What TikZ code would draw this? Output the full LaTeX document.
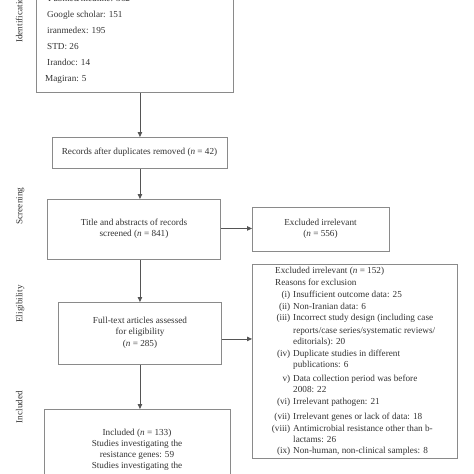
\documentclass[tikz,border=0pt]{standalone}
\usepackage{fontspec}
\setmainfont{Liberation Serif}
\usetikzlibrary{arrows.meta,calc}
\definecolor{boxgray}{HTML}{8A8A8A}
\definecolor{linecol}{HTML}{555555}
\definecolor{txtcol}{HTML}{333333}
\begin{document}
\begin{tikzpicture}[x=1pt,y=-1pt,
  box/.style={draw=boxgray, line width=0.9pt, rectangle, inner sep=0pt, anchor=north west},
  txt/.style={inner sep=0pt, font=\fontsize{9.2}{11.3}\selectfont, text=txtcol},
  ctxt/.style={txt, align=center, anchor=mid},
  ltxt/.style={txt, anchor=mid west},
  rtxt/.style={txt, anchor=mid east},
  conn/.style={draw=linecol, line width=0.8pt},
  arr/.style={conn, -{Triangle[length=5pt,width=4.5pt]}},
  side/.style={txt, rotate=90, anchor=mid}]
\useasboundingbox (0,0) rectangle (474,474);
\clip (0,0) rectangle (474,474);
\fill[white] (0,0) rectangle (474,474);

% boxes
\node[box, minimum width=197pt, minimum height=122pt] (B1) at (36,-30) {};
\node[box, minimum width=175pt, minimum height=31pt] (B2) at (52,137) {};
\node[box, minimum width=173pt, minimum height=60pt] (B3) at (47,199) {};
\node[box, minimum width=137pt, minimum height=44pt] (B4) at (252,207) {};
\node[box, minimum width=205pt, minimum height=194pt] (B5) at (252,264) {};
\node[box, minimum width=163pt, minimum height=62pt] (B6) at (58,302) {};
\node[box, minimum width=186pt, minimum height=90pt] (B7) at (44,409) {};

% side labels
\node[txt, rotate=90, anchor=mid west] (sI) at (20,43) {Identification};
\node[side] (sS) at (20,206) {Screening};
\node[side] (sE) at (20,304) {Eligibility};
\node[side] (sN) at (20,407) {Included};

% B1 text
\node[ltxt] (t11) at (48,-1) {Pubmed/medline: 362};
\node[ltxt] (t12) at (47,15) {Google scholar: 151};
\node[ltxt] (t13) at (47,31) {iranmedex: 195};
\node[ltxt] (t14) at (47,47) {STD: 26};
\node[ltxt] (t15) at (47,63) {Irandoc: 14};
\node[ltxt] (t16) at (45,79) {Magiran: 5};

% B2, B3, B4, B6, B7 text
\node[ctxt] (t2) at (139.5,152) {Records after duplicates removed (\textit{n} = 42)};
\node[ctxt] (t3a) at (134,223) {Title and abstracts of records};
\node[ctxt] (t3b) at (134,234.5) {screened (\textit{n} = 841)};
\node[ctxt] (t4a) at (320.5,223) {Excluded irrelevant};
\node[ctxt] (t4b) at (320.5,234.5) {(\textit{n} = 556)};
\node[ctxt] (t6a) at (140,321) {Full-text articles assessed};
\node[ctxt] (t6b) at (140,332.5) {for eligibility};
\node[ctxt] (t6c) at (140,344) {(\textit{n} = 285)};
\node[ctxt] (t7a) at (137,433) {Included (\textit{n} = 133)};
\node[ctxt] (t7b) at (137,444.5) {Studies investigating the};
\node[ctxt] (t7c) at (137,455.5) {resistance genes: 59};
\node[ctxt] (t7d) at (137,466.5) {Studies investigating the};

% B5 text
\node[ltxt] (h1) at (275,271.5) {Excluded irrelevant (\textit{n} = 152)};
\node[ltxt] (h2) at (275,283) {Reasons for exclusion};
\foreach \y/\lab/\t [count=\i] in {
  295/(i)/Insufficient outcome data: 25,
  307/(ii)/Non-Iranian data: 6,
  318.5/(iii)/Incorrect study design (including case,
  331//reports\slash case series\slash systematic reviews\slash,
  342//editorials): 20,
  354/(iv)/Duplicate studies in different,
  365//publications: 6,
  379/v)/Data collection period was before,
  390//2008: 22,
  402/(vi)/Irrelevant pathogen: 21,
  417/(vii)/Irrelevant genes or lack of data: 18,
  429/(viii)/Antimicrobial resistance other than b-,
  440//lactams: 26,
  451/(ix)/{Non-human, non-clinical samples: 8}}{
  \node[rtxt] (r\i) at (290.5,\y) {\lab};
  \node[ltxt] (e\i) at (293,\y) {\t};
}

% connectors
\draw[arr] (B2.north |- B1.south) -- (B2.north);
\draw[arr] (B2.south) -- (B3.north -| B2.south);
\draw[arr] (B3.south -| B2.south) -- (B6.north -| B2.south);
\draw[arr] (B6.south) -- (B7.north -| B6.south);
\coordinate (c34) at ($(B3.east)+(0,-1)$);
\draw[arr] (c34) -- (B4.west |- c34);
\coordinate (c65) at ($(B6.east)+(0,5.5)$);
\draw[arr] (c65) -- (B5.west |- c65);
\end{tikzpicture}
\end{document}
